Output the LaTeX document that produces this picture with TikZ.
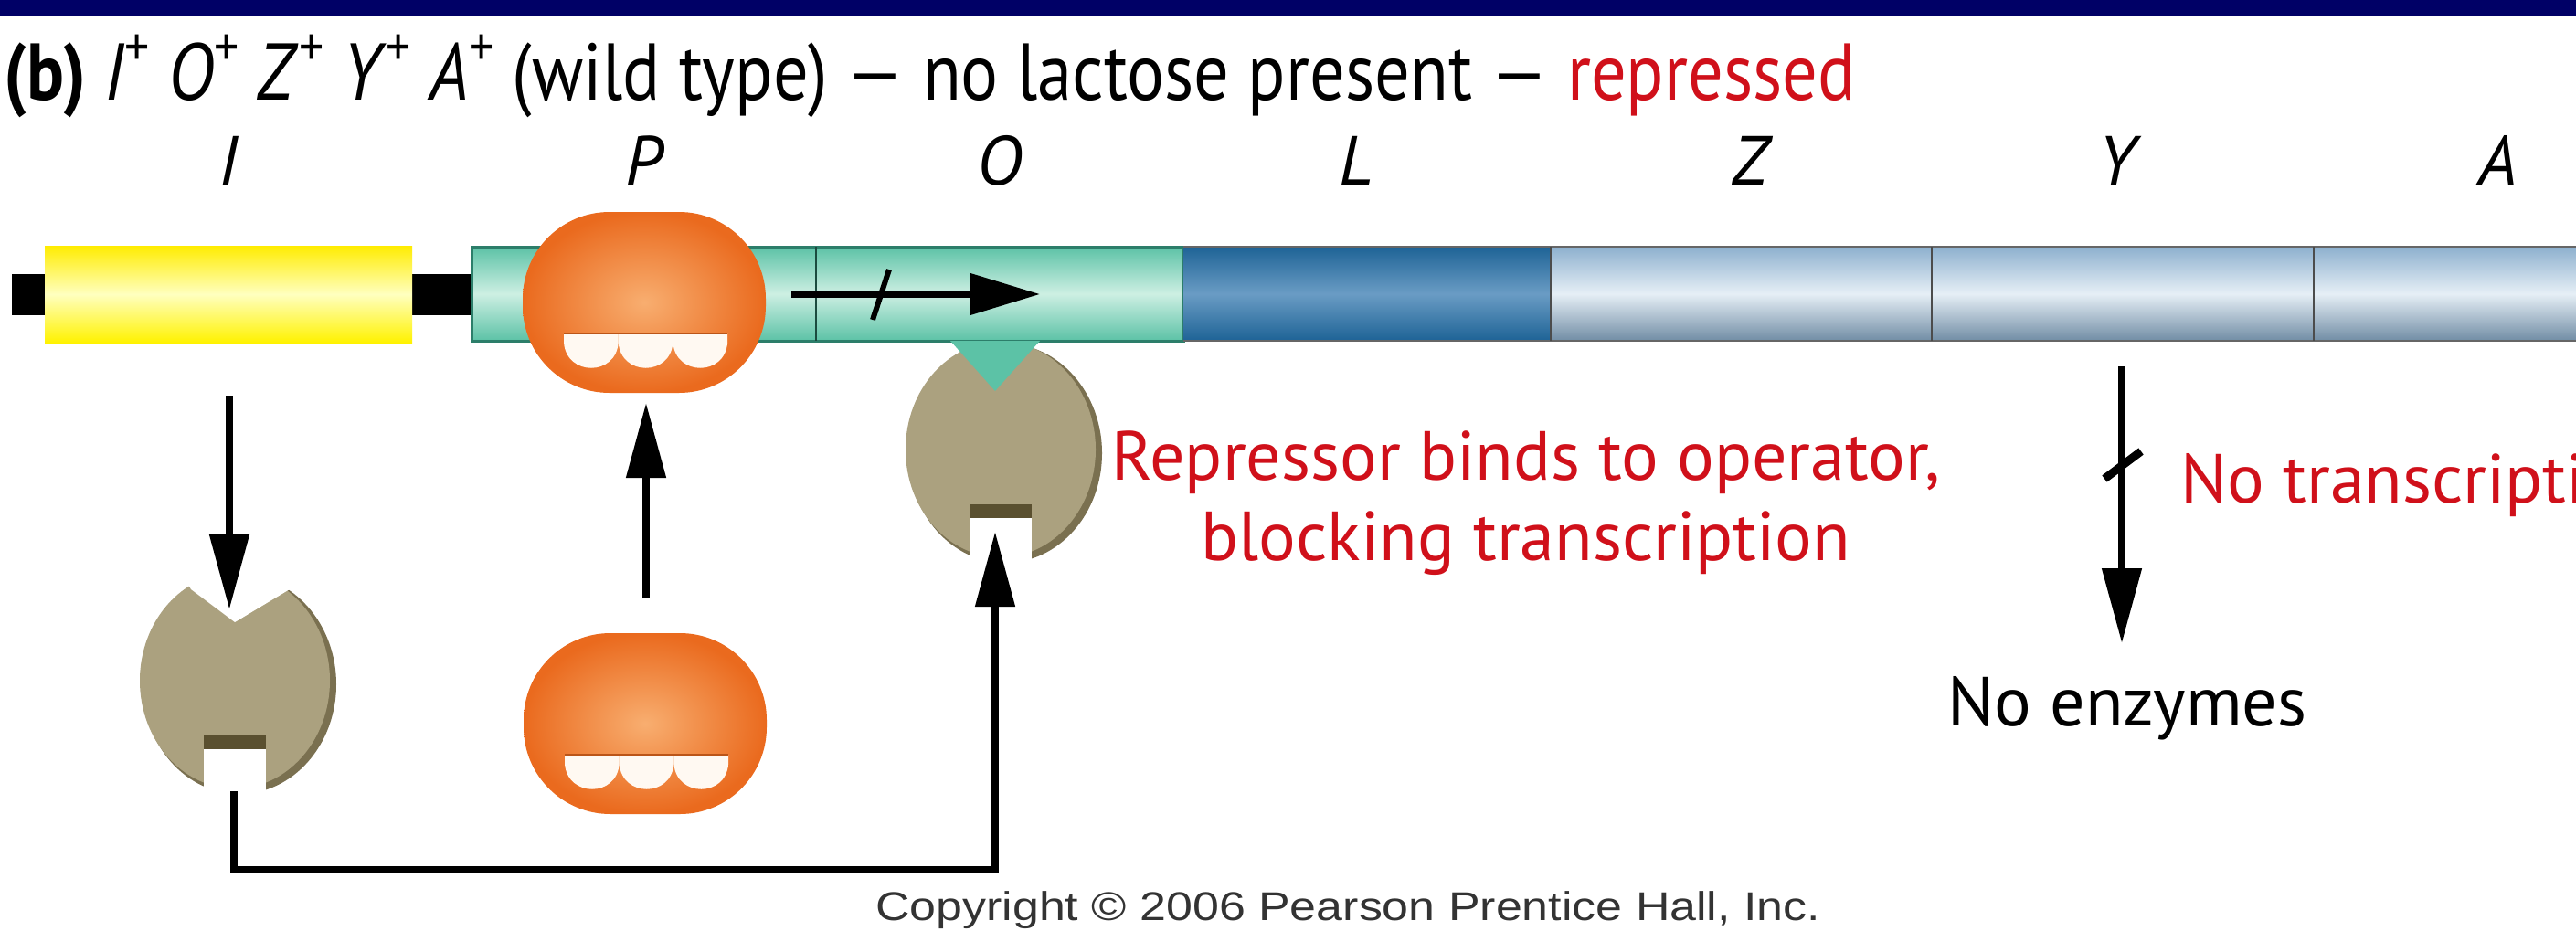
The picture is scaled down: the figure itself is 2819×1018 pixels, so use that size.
\documentclass[tikz,border=0pt]{standalone}
\usepackage{fontspec}
\setmainfont{PT Sans}
\newfontfamily\crfont{Liberation Sans}
\usetikzlibrary{arrows.meta}
\definecolor{navy}{HTML}{000066}
\definecolor{redtxt}{HTML}{D0101A}
\definecolor{repfill}{HTML}{ABA17F}
\definecolor{repdark}{HTML}{7A7050}
\definecolor{repband}{HTML}{5A5030}
\definecolor{orgdark}{HTML}{EA6A1E}
\definecolor{orglight}{HTML}{F8AE70}
\definecolor{tealedge}{HTML}{5CC2A6}
\definecolor{teallight}{HTML}{CDEFE3}
\definecolor{tealline}{HTML}{2C7E6A}
\definecolor{bluedark}{HTML}{1E6396}
\definecolor{bluemid}{HTML}{6A9CC4}
\definecolor{bluelt}{HTML}{8DB0CE}
\definecolor{bluevlt}{HTML}{E6EFF6}
\tikzset{
  lbl/.style={font=\fontsize{76}{80}\selectfont\itshape, anchor=base},
  redlbl/.style={font=\fontsize{76}{88}\selectfont, text=redtxt, align=center},
  bigarrow/.style={line width=8pt, -{Triangle[length=82pt,width=42pt]}},
  segline/.style={draw=black!70, line width=2.5pt},
}
\newcommand{\plussup}{\raisebox{0.42em}{\fontsize{62}{62}\selectfont +}}
\newcommand{\repressor}[3]{% center x, center y, top notch (1) or not (0)
  \fill[repdark] (#1+5,#2+4) ellipse [x radius=106pt, y radius=120pt];
  \fill[repfill] (#1,#2) ellipse [x radius=104pt, y radius=118pt];
  \fill[repband] (#1-34,#2+60) rectangle (#1+34,#2+75);
  \fill[white] (#1-34,#2+75) rectangle (#1+34,#2+140);
  \ifnum#3=1
  \fill[white] (#1-70,#2-140) -- (#1+70,#2-140) -- (#1+60,#2-100) -- (#1,#2-64) -- (#1-48,#2-100) -- cycle;
  \fi
}
\newcommand{\polymerase}[3]{% left x, top y, bottom y
  \shade[inner color=orglight, outer color=orgdark, rounded corners=95pt] (#1,#2) rectangle (#1+266,#3);
  \foreach \k in {0,1,2}{
    \fill[white!95!orange] (#1+45+\k*59.7,#3-65) -- (#1+45+\k*59.7+59.7,#3-65) -- (#1+45+\k*59.7+59.7,#3-55)
      .. controls (#1+45+\k*59.7+57,#3-18) and (#1+45+\k*59.7+3,#3-18) .. (#1+45+\k*59.7,#3-55) -- cycle;
  }
  \draw[orgdark!80!black, line width=2pt] (#1+45,#3-65) -- (#1+224,#3-65);
}
\begin{document}
\begin{tikzpicture}[x=1pt,y=-1pt]
\useasboundingbox (0,0) rectangle (2819,1018);
\fill[white] (0,0) rectangle (2819,1018);
\fill[navy] (0,0) rectangle (2819,18);
% title
\node[anchor=base west, inner sep=0, font=\fontsize{88}{90}\selectfont] (title) at (4,109)
 {\scalebox{0.87}[1]{\textbf{(b)} \textit{I}\plussup\ \textit{O}\plussup\ \textit{Z}\plussup\ \textit{Y}\plussup\ \textit{A}\plussup\ (wild type) --- no lactose present --- \textcolor{redtxt}{repressed}}};
% gene labels
\node[lbl] (lI) at (250,202) {I};
\node[lbl] (lP) at (705,202) {P};
\node[lbl] (lO) at (1094,202) {O};
\node[lbl] (lL) at (1484,202) {L};
\node[lbl] (lZ) at (1915,202) {Z};
\node[lbl] (lY) at (2317,202) {Y};
\node[lbl] (lA) at (2734,202) {A};
% DNA
\fill[black] (13,300) rectangle (49,345);
\fill[black] (451,300) rectangle (516,345);
\shade[top color=yellow!85!orange, bottom color=yellow!90!orange, middle color=yellow!25] (49,269) rectangle (451,375);
\shade[top color=tealedge, bottom color=tealedge, middle color=teallight] (516,270) rectangle (1295,373);
\draw[tealline, line width=3pt] (516,270) rectangle (1295,373);
\draw[tealline!60!black, line width=2.5pt] (893,270) -- (893,373);
\shade[top color=bluedark, bottom color=bluedark, middle color=bluemid] (1295,270) rectangle (1697,373);
\shade[top color=bluelt, bottom color=bluelt!80!black, middle color=bluevlt] (1697,270) rectangle (2819,373);
\draw[black!60, line width=2pt] (1295,270) -- (2819,270) (1295,373) -- (2819,373);
\draw[segline] (1697,270) -- (1697,373);
\draw[segline] (2114,270) -- (2114,373);
\draw[segline] (2532,270) -- (2532,373);
% transcription start arrow in O
\coordinate (tsA) at (866,322);
\coordinate (tsB) at (1138,322);
\draw[line width=7pt, -{Triangle[length=76pt,width=44pt]}] (tsA) -- (tsB);
\coordinate (sl1) at (955,350);
\coordinate (sl2) at (973,295);
\draw[line width=6pt] (sl1) -- (sl2);
% bound polymerase
\polymerase{572}{232}{430}
\node[inner sep=0, minimum width=266pt, minimum height=198pt] (polB) at (705,331) {};
% bound repressor
\repressor{1095}{492}{0}
\fill[tealedge] (1040,373) -- (1138,373) -- (1089,428) -- cycle;
\node[inner sep=0, minimum width=212pt, minimum height=218pt] (repB) at (1095,497) {};
% free repressor
\repressor{257}{745}{1}
\node[inner sep=0, minimum width=212pt, minimum height=218pt] (repF) at (257,757) {};
% free polymerase
\polymerase{573}{693}{891}
\node[inner sep=0, minimum width=266pt, minimum height=198pt] (polF) at (706,792) {};
% arrows
\coordinate (aI1) at (251,433);
\coordinate (aI2) at (251,667);
\draw[bigarrow] (aI1) -- (aI2);
\coordinate (aP1) at (707,655);
\coordinate (aP2) at (707,441);
\draw[bigarrow] (aP1) -- (aP2);
\coordinate (lp1) at (256,866);
\coordinate (lp2) at (1089,582);
\draw[line width=8pt, -{Triangle[length=82pt,width=42pt]}] (lp1) -- (256,952) -- (1089,952) -- (lp2);
\coordinate (aY1) at (2322,401);
\coordinate (aY2) at (2322,704);
\draw[bigarrow] (aY1) -- (aY2);
\coordinate (ys1) at (2303,524);
\coordinate (ys2) at (2343,494);
\draw[line width=9pt] (ys1) -- (ys2);
% texts
\node[redlbl, anchor=north] (rtxt) at (1670,468) {Repressor binds to operator,\\blocking transcription};
\node[redlbl, anchor=base west, inner sep=0] (ntx) at (2386,550) {No transcription};
\node[anchor=base west, inner sep=0, font=\fontsize{76}{80}\selectfont] (nenz) at (2131,794) {No enzymes};
\node[anchor=base west, inner sep=0, text=black!80, font=\crfont\fontsize{44}{46}\selectfont] (copy) at (958,1007) {\scalebox{1.18}[1]{Copyright © 2006 Pearson Prentice Hall, Inc.}};
\end{tikzpicture}
\end{document}
